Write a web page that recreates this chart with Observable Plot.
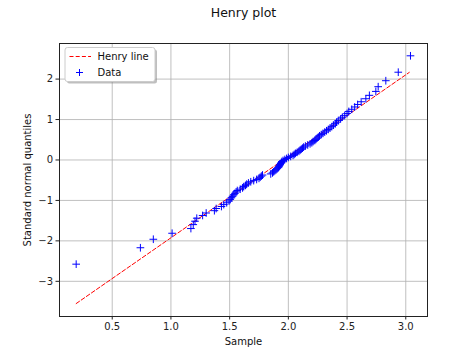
<!DOCTYPE html>
<html>
<head>
<meta charset="utf-8">
<script src="https://cdn.jsdelivr.net/npm/d3@7"></script>
<script src="https://cdn.jsdelivr.net/npm/@observablehq/plot@0.6"></script>
<style>
  html, body { margin: 0; padding: 0; background: white; }
  #chart { width: 474px; height: 355px; }
</style>
</head>
<body>
<div id="chart"></div>
<script>
// Sorted sample values (x)
const sample = [
  0.193, 0.74, 0.85, 1.01, 1.17, 1.19, 1.205, 1.22, 1.27, 1.30,
  1.37, 1.385, 1.43, 1.45, 1.475, 1.495, 1.505, 1.515, 1.525, 1.535,
  1.545, 1.555, 1.565, 1.59, 1.61, 1.62, 1.635, 1.645, 1.66, 1.68,
  1.705, 1.73, 1.75, 1.76, 1.77, 1.78, 1.85, 1.865, 1.875, 1.885,
  1.895, 1.905, 1.915, 1.92, 1.925, 1.93, 1.935, 1.94, 1.945, 1.955,
  1.97, 1.985, 2.0, 2.02, 2.04, 2.05, 2.06, 2.075, 2.09, 2.10,
  2.11, 2.12, 2.13, 2.145, 2.165, 2.185, 2.20, 2.21, 2.225, 2.235,
  2.245, 2.255, 2.265, 2.28, 2.295, 2.31, 2.325, 2.34, 2.355, 2.37,
  2.385, 2.40, 2.41, 2.425, 2.445, 2.46, 2.48, 2.50, 2.515, 2.54,
  2.565, 2.59, 2.62, 2.66, 2.69, 2.745, 2.765, 2.83, 2.936, 3.04
];
// Standard normal quantiles (y)
const quantiles = [
  -2.5758, -2.1701, -1.9600, -1.8119, -1.6954, -1.5982, -1.5141, -1.4395, -1.3722, -1.3106,
  -1.2536, -1.2004, -1.1503, -1.1031, -1.0581, -1.0152, -0.9741, -0.9346, -0.8965, -0.8596,
  -0.8239, -0.7892, -0.7554, -0.7225, -0.6903, -0.6588, -0.6280, -0.5978, -0.5681, -0.5388,
  -0.5101, -0.4817, -0.4538, -0.4261, -0.3989, -0.3719, -0.3451, -0.3186, -0.2924, -0.2663,
  -0.2404, -0.2147, -0.1891, -0.1637, -0.1383, -0.1130, -0.0878, -0.0627, -0.0376, -0.0125,
  0.0125, 0.0376, 0.0627, 0.0878, 0.1130, 0.1383, 0.1637, 0.1891, 0.2147, 0.2404,
  0.2663, 0.2924, 0.3186, 0.3451, 0.3719, 0.3989, 0.4261, 0.4538, 0.4817, 0.5101,
  0.5388, 0.5681, 0.5978, 0.6280, 0.6588, 0.6903, 0.7225, 0.7554, 0.7892, 0.8239,
  0.8596, 0.8965, 0.9346, 0.9741, 1.0152, 1.0581, 1.1031, 1.1503, 1.2004, 1.2536,
  1.3106, 1.3722, 1.4395, 1.5141, 1.5982, 1.6954, 1.8119, 1.9600, 2.1701, 2.5758
];
// Henry line endpoints
const henryX = [0.193, 3.03];
const henryY = [-3.55, 2.166];
// Ticks
const xTicks = [0.5, 1.0, 1.5, 2.0, 2.5, 3.0];
const yTicks = [-3, -2, -1, 0, 1, 2];
const legendLabels = ["Henry line", "Data"];

const data = sample.map((x, i) => ({x, y: quantiles[i]}));
const henry = henryX.map((x, i) => ({x, y: henryY[i]}));

const font = "DejaVu Sans, sans-serif";
const plot = Plot.plot({
  width: 474,
  height: 355,
  marginLeft: 59,
  marginRight: 47,
  marginTop: 43,
  marginBottom: 39,
  style: {fontFamily: font, fontSize: "10px", color: "#222", background: "white", overflow: "visible"},
  x: {domain: [0.051, 3.185]},
  y: {domain: [-3.87, 2.88]},
  marks: [
    Plot.gridX(xTicks, {stroke: "#b0b0b0", strokeOpacity: 1, strokeWidth: 0.8}),
    Plot.gridY(yTicks, {stroke: "#b0b0b0", strokeOpacity: 1, strokeWidth: 0.8}),
    Plot.axisX(xTicks, {tickFormat: d3.format(".1f"), tickSize: 3.5, tickPadding: 3, label: null, fontSize: 10, stroke: "#222"}),
    Plot.axisY(yTicks, {tickSize: 3.5, tickPadding: 3, label: null, fontSize: 10, stroke: "#222"}),
    Plot.line(henry, {x: "x", y: "y", stroke: "red", strokeWidth: 1, strokeDasharray: "4,2.2"}),
    Plot.dot(data, {x: "x", y: "y", symbol: "plus", stroke: "blue", r: 2.6, strokeWidth: 1}),
    Plot.frame({stroke: "#222", strokeWidth: 1}),
    Plot.text(["Henry plot"], {frameAnchor: "top", dy: -31, fontSize: 12.5, textAnchor: "middle", lineAnchor: "middle", fill: "#111"}),
    Plot.text(["Sample"], {frameAnchor: "bottom", dy: 25, fontSize: 10, textAnchor: "middle", lineAnchor: "middle", fill: "#111"}),
    Plot.text(["Standard normal quantiles"], {frameAnchor: "left", dx: -32, rotate: -90, fontSize: 10, textAnchor: "middle", lineAnchor: "middle", fill: "#111"})
  ]
});
document.getElementById("chart").appendChild(plot);

// Legend (matplotlib-style with shadow)
const svg = d3.select(plot);
const lg = svg.append("g").attr("font-family", font).attr("font-size", 10).attr("text-anchor", "start");
const bx = 65, by = 47.5, bw = 90, bh = 34;
lg.append("rect").attr("x", bx + 2).attr("y", by + 2).attr("width", bw).attr("height", bh)
  .attr("rx", 2.5).attr("fill", "#808080").attr("fill-opacity", 0.5);
lg.append("rect").attr("x", bx).attr("y", by).attr("width", bw).attr("height", bh)
  .attr("rx", 2.5).attr("fill", "white").attr("stroke", "#cccccc").attr("stroke-width", 1);
lg.append("line").attr("x1", 69.5).attr("x2", 91).attr("y1", 56.5).attr("y2", 56.5)
  .attr("stroke", "red").attr("stroke-width", 1).attr("stroke-dasharray", "4,2.2");
lg.append("path").attr("d", "M76,72.5h7M79.5,69v7").attr("stroke", "blue").attr("stroke-width", 1);
lg.append("text").attr("x", 97.5).attr("y", 56.5).attr("dy", "0.35em").attr("fill", "#111").attr("text-anchor", "start").text(legendLabels[0]);
lg.append("text").attr("x", 97.5).attr("y", 72.5).attr("dy", "0.35em").attr("fill", "#111").attr("text-anchor", "start").text(legendLabels[1]);
</script>
</body>
</html>
